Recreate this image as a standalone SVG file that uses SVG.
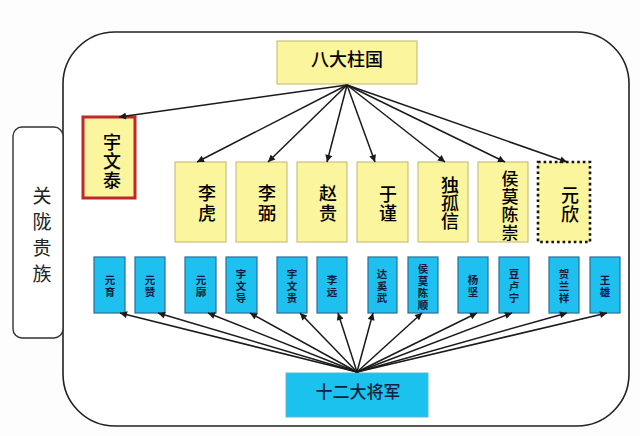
<svg xmlns="http://www.w3.org/2000/svg" width="640" height="436" viewBox="0 0 640 436">
<defs>
<marker id="ah" viewBox="0 0 10 10" refX="10" refY="5" markerWidth="8" markerHeight="7" markerUnits="userSpaceOnUse" orient="auto">
<path d="M0,0 L10,5 L0,10 z" fill="#1a1a1a"/>
</marker>
<style>
.frame{fill:#ffffff;stroke:#222;stroke-width:1.6}
.label{fill:#ffffff;stroke:#333;stroke-width:1.4}
.yb{fill:#fbf59d;stroke:#c9c27f;stroke-width:1.2}
.red{fill:#fbf59d;stroke:#c0262a;stroke-width:3}
.dot{fill:#fbf59d;stroke:#111;stroke-width:2.6;stroke-dasharray:2.6 3}
.bb{fill:#1ec0ef;stroke:#2b6e96;stroke-width:1.2}
.bbig{fill:#1cc2ee;stroke:#5ab7d8;stroke-width:1}
.t{font-family:"Noto Sans CJK SC","Noto Sans CJK TC",sans-serif;fill:#111;text-anchor:middle;dominant-baseline:central}
.ty{font-size:18px;font-weight:500;fill:#000}
.ts{font-size:10.5px;font-weight:bold;fill:#14183a}
.tl{font-size:19px;fill:#222}
.tb{font-size:17px;font-weight:500;fill:#0f1f40}
.c line{stroke:#1a1a1a;stroke-width:1.5;marker-end:url(#ah)}
</style>
</defs>
<rect width="640" height="436" fill="#fdfdfe"/>
<rect class="frame" x="63" y="32" width="566" height="394" rx="52" ry="52"/>
<g id="guanlong">
<rect class="label" x="13" y="127" width="50" height="211" rx="9" ry="9"/>
<text class="t tl" x="42" y="194">关</text>
<text class="t tl" x="42" y="220">陇</text>
<text class="t tl" x="42" y="246">贵</text>
<text class="t tl" x="42" y="272">族</text>
</g>
<g id="badazhuguo">
<rect class="yb" x="277" y="41" width="140" height="43"/>
<text class="t ty" x="347" y="58">八大柱国</text>
</g>
<g id="yuwentai">
<rect class="red" x="83" y="117" width="52" height="81"/>
<text class="t ty" x="112" y="141">宇</text>
<text class="t ty" x="112" y="160">文</text>
<text class="t ty" x="112" y="179">泰</text>
</g>
<g id="lihu">
<rect class="yb" x="175" y="162" width="51" height="80"/>
<text class="t ty" x="207" y="192">李</text>
<text class="t ty" x="207" y="212">虎</text>
</g>
<g id="libi">
<rect class="yb" x="236" y="162" width="51" height="80"/>
<text class="t ty" x="267" y="192">李</text>
<text class="t ty" x="267" y="212">弼</text>
</g>
<g id="zhaogui">
<rect class="yb" x="297" y="162" width="50" height="80"/>
<text class="t ty" x="328" y="192">赵</text>
<text class="t ty" x="328" y="212">贵</text>
</g>
<g id="yujin">
<rect class="yb" x="357" y="162" width="51" height="80"/>
<text class="t ty" x="388" y="193">于</text>
<text class="t ty" x="388" y="212">谨</text>
</g>
<g id="dugu">
<rect class="yb" x="418" y="162" width="50" height="80"/>
<text class="t ty" x="450" y="184">独</text>
<text class="t ty" x="450" y="202">孤</text>
<text class="t ty" x="450" y="220">信</text>
</g>
<g id="houmochenchong">
<rect class="yb" x="478" y="162" width="50" height="80"/>
<text class="t ty" x="510" y="177" style="font-size:17px">侯</text>
<text class="t ty" x="510" y="195" style="font-size:17px">莫</text>
<text class="t ty" x="510" y="213" style="font-size:17px">陈</text>
<text class="t ty" x="510" y="231" style="font-size:17px">崇</text>
</g>
<g id="yuanxin">
<rect class="dot" x="538" y="162" width="52" height="80"/>
<text class="t ty" x="570" y="194">元</text>
<text class="t ty" x="570" y="213">欣</text>
</g>
<g id="g1"><rect class="bb" x="94" y="257" width="31" height="56"/><text class="t ts" x="110" y="279">元</text><text class="t ts" x="110" y="291">育</text></g>
<g id="g2"><rect class="bb" x="135" y="257" width="30" height="56"/><text class="t ts" x="150" y="279">元</text><text class="t ts" x="150" y="291">赞</text></g>
<g id="g3"><rect class="bb" x="185" y="257" width="31" height="56"/><text class="t ts" x="201" y="279">元</text><text class="t ts" x="201" y="291">廓</text></g>
<g id="g4"><rect class="bb" x="226" y="257" width="31" height="56"/><text class="t ts" x="241" y="273">宇</text><text class="t ts" x="241" y="285">文</text><text class="t ts" x="241" y="297">导</text></g>
<g id="g5"><rect class="bb" x="277" y="257" width="30" height="56"/><text class="t ts" x="292" y="273">宇</text><text class="t ts" x="292" y="285">文</text><text class="t ts" x="292" y="297">贵</text></g>
<g id="g6"><rect class="bb" x="317" y="257" width="30" height="56"/><text class="t ts" x="332" y="279">李</text><text class="t ts" x="332" y="291">远</text></g>
<g id="g7"><rect class="bb" x="368" y="257" width="29" height="56"/><text class="t ts" x="382" y="273">达</text><text class="t ts" x="382" y="285">奚</text><text class="t ts" x="382" y="297">武</text></g>
<g id="g8"><rect class="bb" x="408" y="257" width="30" height="56"/><text class="t ts" x="423" y="268">侯</text><text class="t ts" x="423" y="280">莫</text><text class="t ts" x="423" y="292">陈</text><text class="t ts" x="423" y="304">顺</text></g>
<g id="g9"><rect class="bb" x="458" y="257" width="30" height="56"/><text class="t ts" x="473" y="279">杨</text><text class="t ts" x="473" y="291">坚</text></g>
<g id="g10"><rect class="bb" x="499" y="257" width="30" height="56"/><text class="t ts" x="514" y="273">豆</text><text class="t ts" x="514" y="285">卢</text><text class="t ts" x="514" y="297">宁</text></g>
<g id="g11"><rect class="bb" x="549" y="257" width="30" height="56"/><text class="t ts" x="564" y="273">贺</text><text class="t ts" x="564" y="285">兰</text><text class="t ts" x="564" y="297">祥</text></g>
<g id="g12"><rect class="bb" x="590" y="257" width="30" height="56"/><text class="t ts" x="605" y="279">王</text><text class="t ts" x="605" y="291">雄</text></g>
<g id="shierdajiangjun">
<rect class="bbig" x="286" y="373" width="142" height="44"/>
<text class="t tb" x="358" y="390">十二大将军</text>
</g>
<g class="c" id="connectors">
<line x1="347" y1="85" x2="119" y2="117"/>
<line x1="347" y1="85" x2="197" y2="162"/>
<line x1="347" y1="85" x2="268" y2="162"/>
<line x1="347" y1="85" x2="327" y2="162"/>
<line x1="347" y1="85" x2="375" y2="162"/>
<line x1="347" y1="85" x2="445" y2="162"/>
<line x1="347" y1="85" x2="505" y2="162"/>
<line x1="347" y1="85" x2="567" y2="162"/>
<line x1="357" y1="372" x2="120" y2="313"/>
<line x1="357" y1="372" x2="158" y2="313"/>
<line x1="357" y1="372" x2="208" y2="313"/>
<line x1="357" y1="372" x2="250" y2="313"/>
<line x1="357" y1="372" x2="300" y2="313"/>
<line x1="357" y1="372" x2="338" y2="313"/>
<line x1="357" y1="372" x2="373" y2="313"/>
<line x1="357" y1="372" x2="422" y2="313"/>
<line x1="357" y1="372" x2="477" y2="313"/>
<line x1="357" y1="372" x2="512" y2="313"/>
<line x1="357" y1="372" x2="567" y2="313"/>
<line x1="357" y1="372" x2="607" y2="313"/>
</g>
</svg>
